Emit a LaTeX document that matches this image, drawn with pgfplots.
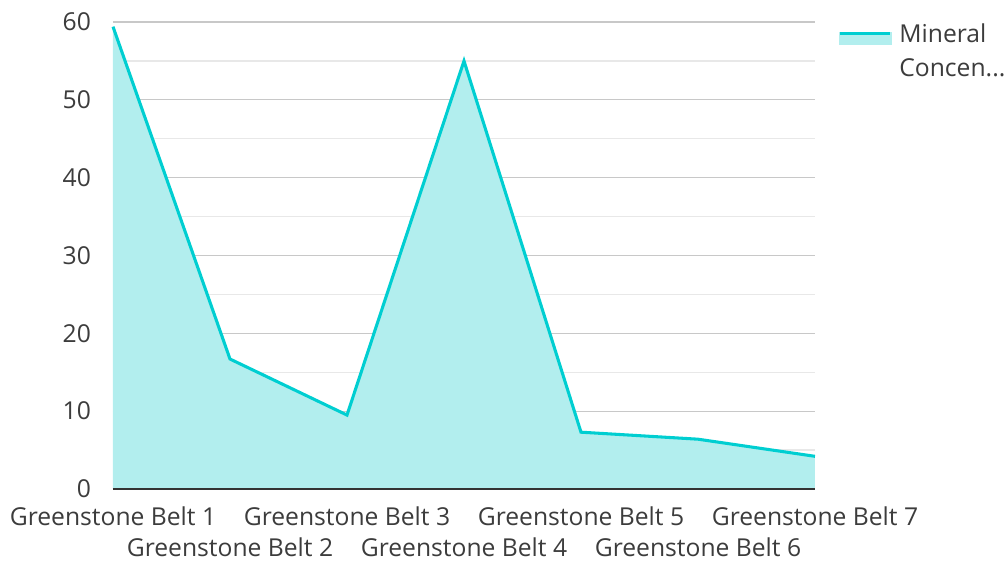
\documentclass[border=0pt]{standalone}
\usepackage{pgfplots}
\pgfplotsset{compat=1.18}
\usepackage{fontspec}
\setmainfont{Open Sans}
\definecolor{lineC}{RGB}{0,206,209}
\definecolor{fillC}{RGB}{178,238,238}
\definecolor{majG}{RGB}{200,200,200}
\definecolor{minG}{RGB}{232,232,232}
\definecolor{txt}{RGB}{60,60,60}
\begin{document}
\begin{tikzpicture}[x=1pt,y=1pt]
\begin{axis}[
  scale only axis,
  width=526.5pt, height=350.25pt,
  xmin=0, xmax=6, ymin=0, ymax=60,
  axis line style={draw=none},
  axis x line*=bottom,
  xtick={0,2,4,6},
  xticklabels={Greenstone Belt 1,Greenstone Belt 3,Greenstone Belt 5,Greenstone Belt 7},
  extra x ticks={1,3,5},
  extra x tick labels={Greenstone Belt 2,Greenstone Belt 4,Greenstone Belt 6},
  extra x tick style={xticklabel style={yshift=-23pt}, grid=none},
  xticklabel style={anchor=north, font=\fontsize{18.5pt}{22pt}\selectfont, text=txt, yshift=-10pt},
  ytick={0,10,20,30,40,50,60},
  minor ytick={5,15,25,35,45,55},
  ymajorgrids, yminorgrids,
  major grid style={majG, line width=0.9pt},
  minor grid style={minG, line width=0.9pt},
  major tick length=0pt, minor tick length=0pt,
  yticklabel style={font=\fontsize{18.5pt}{22pt}\selectfont, text=txt, xshift=-13pt},
  /pgf/number format/assume math mode=true,
  clip=false,
  legend style={at={(1.035,1.0)}, anchor=north west, draw=none, fill=none,
    font=\fontsize{18.5pt}{25.5pt}\selectfont, text=txt, cells={align=left},
    inner sep=0pt, outer sep=0pt, yshift=1pt, xshift=-0.75pt},
  legend cell align=left,
  legend image code/.code={
    \fill[fillC] (-4.5pt,5.25pt) rectangle (33pt,12.75pt);
    \draw[lineC, line width=2.4pt] (-4.5pt,12.75pt) -- (33pt,12.75pt);
    \path (36.75pt,12.75pt);
  },
]
\addplot[draw=none, fill=fillC, forget plot] coordinates {(0,59.4) (1,16.7) (2,9.5) (3,55.0) (4,7.3) (5,6.4) (6,4.2)} \closedcycle;
\addplot[lineC, line width=2.3pt] coordinates {(0,59.4) (1,16.7) (2,9.5) (3,55.0) (4,7.3) (5,6.4) (6,4.2)};
\addlegendentry{Mineral\\Concen...}
\draw[color={rgb,255:red,51;green,51;blue,51}, line width=1.3pt] (axis cs:0,0) -- (axis cs:6,0);
\end{axis}
\pgfresetboundingbox
\path[use as bounding box] (-84.75pt,-54pt) rectangle (670.5pt,366.75pt);
\end{tikzpicture}
\end{document}
